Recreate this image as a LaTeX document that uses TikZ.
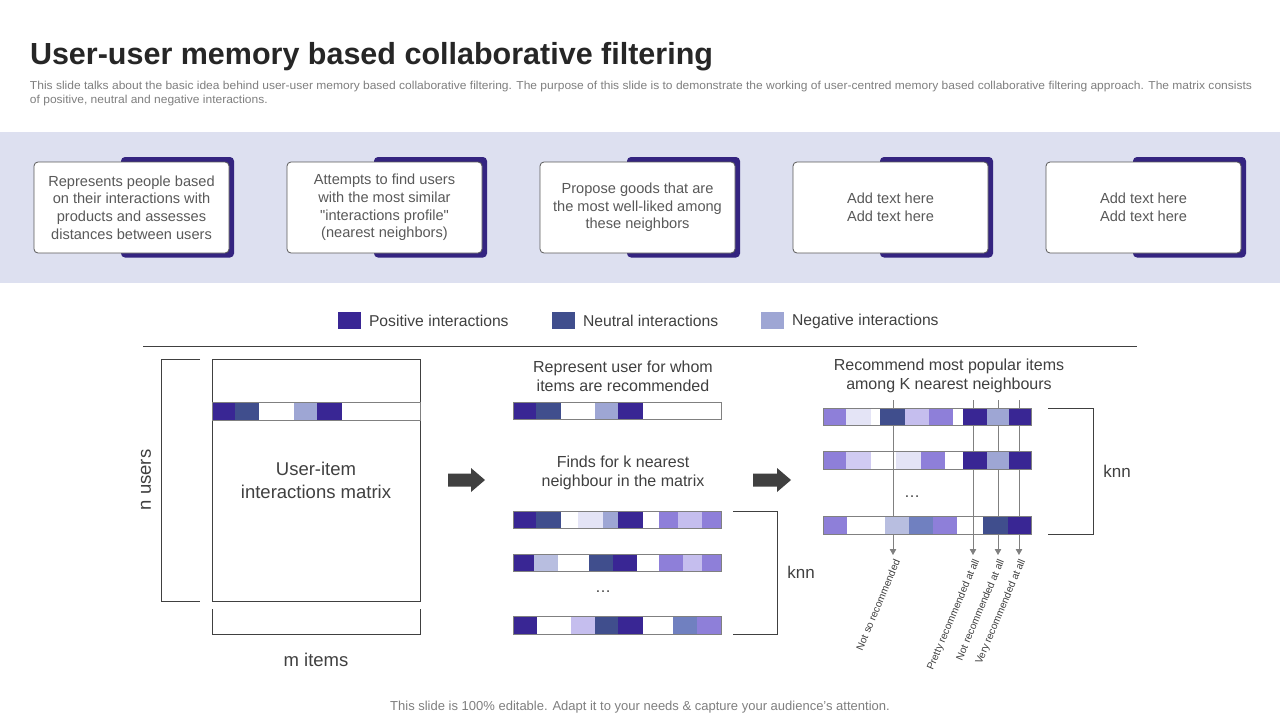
\documentclass[tikz,border=0pt]{standalone}
\usepackage{fontspec}
\usepackage{graphicx}
\setmainfont{Liberation Sans}
\usetikzlibrary{arrows.meta}
\definecolor{titlec}{RGB}{38,38,38}
\definecolor{subc}{RGB}{127,127,127}
\definecolor{band}{RGB}{221,224,240}
\definecolor{cardp}{RGB}{52,36,128}
\definecolor{cardb}{RGB}{89,89,89}
\definecolor{cardt}{RGB}{89,89,89}
\definecolor{txt}{RGB}{64,64,64}
\definecolor{linec}{RGB}{64,64,64}
\definecolor{rowc}{RGB}{128,128,128}
\definecolor{arrowc}{RGB}{64,64,64}
\definecolor{cpos}{RGB}{57,38,148}
\definecolor{cneu}{RGB}{64,78,141}
\definecolor{cneg}{RGB}{158,166,212}
\definecolor{cmp}{RGB}{142,127,217}
\definecolor{clp}{RGB}{197,190,238}
\definecolor{clpb}{RGB}{208,203,242}
\definecolor{cvl}{RGB}{228,228,246}
\definecolor{cbg}{RGB}{184,190,224}
\definecolor{csl}{RGB}{112,128,192}
\newcommand\cellrow[5]{%
  \foreach \a/\b/\c in {#5}{\fill[fill=\c] (\a,#1) rectangle (\b,#2);}
  \draw[rowc, line width=0.8] (#3,#1) rectangle (#4,#2);}
\newcommand\card[3]{%
  \fill[cardp, rounded corners=4] (#1+87,157) rectangle (#1+200,257.5);
  \node[cardbox] (#2) at (#1+97.5,207.5) {#3};}
\begin{document}
\begin{tikzpicture}[x=1pt,y=-1pt,
  every node/.style={inner sep=0pt, outer sep=0pt},
  cardbox/.style={draw=cardb, fill=white, rounded corners=4, minimum width=195, minimum height=91, line width=0.8, align=center, text=cardt, font=\fontsize{14.6}{17.6}\selectfont},
  dtext/.style={text=txt, align=center, font=\fontsize{16}{19}\selectfont},
  legtext/.style={text=txt, anchor=west, font=\fontsize{15.7}{19}\selectfont},
  legbox/.style={minimum width=23, minimum height=17},
  rlabel/.style={text=txt, anchor=east, rotate=67, font=\fontsize{10.2}{12}\selectfont},
  garrow/.style={rowc, line width=0.9, -{Triangle[length=6,width=6.5]}},
  bracket/.style={linec, line width=0.9}]
\useasboundingbox (0,0) rectangle (1280,720);
\fill[white] (0,0) rectangle (1280,720);
% title
\node[anchor=base west, text=titlec, font=\fontsize{30.5}{36}\selectfont\bfseries] (title) at (30,64) {User-user memory based collaborative filtering};
\node[anchor=north west, text=subc, font=\fontsize{11.5}{14}\selectfont] (sub) at (30,79.5) {\resizebox{1222pt}{\height}{\begin{tabular}{@{}l@{}}This slide talks about the basic idea behind user-user memory based collaborative filtering. The purpose of this slide is to demonstrate the working of user-centred memory based collaborative filtering approach. The matrix consists\\ of positive, neutral and negative interactions.\end{tabular}}};
% band
\fill[band] (0,132) rectangle (1280,283);
\card{34}{c1}{Represents people based\\on their interactions with\\products and assesses\\distances between users}
\card{287}{c2}{Attempts to find users\\with the most similar\\{\addfontfeatures{Ligatures=TeXOff}"interactions profile"}\\(nearest neighbors)}
\card{540}{c3}{Propose goods that are\\the most well-liked among\\these neighbors}
\card{793}{c4}{Add text here\\Add text here}
\card{1046}{c5}{Add text here\\Add text here}
% legend
\node[legbox, fill=cpos] (lp) at (349.5,320.5) {};
\node[legtext] (lpt) at (369,321) {Positive interactions};
\node[legbox, fill=cneu] (ln) at (563.5,320.5) {};
\node[legtext] (lnt) at (583,321) {Neutral interactions};
\node[legbox, fill=cneg] (lg) at (772.5,320.5) {};
\node[legtext] (lgt) at (792,321) {Negative interactions};
\coordinate (hl1) at (143,346);
\coordinate (hl2) at (1137,346);
\draw[linec, line width=1] (hl1) -- (hl2);
% left part
\draw[bracket] (200,359) -- (161,359) -- (161,601) -- (200,601);
\node[draw=linec, line width=0.9, minimum width=208, minimum height=242, dtext, font=\fontsize{18.5}{23}\selectfont] (mat) at (316,480) {User-item\\interactions matrix};
\cellrow{402}{420}{212}{420}{212/235/cpos,235/259/cneu,294/317/cneg,317/342/cpos}
\draw[bracket] (212,609) -- (212,634) -- (420,634) -- (420,609);
\node[dtext, rotate=90, font=\fontsize{18.5}{20}\selectfont] (nu) at (146,480) {n users};
\node[dtext, font=\fontsize{18.5}{20}\selectfont] (mi) at (316,660) {m items};
% arrows
\fill[arrowc] (448,473.5) -- (471,473.5) -- (471,468) -- (485,480) -- (471,492) -- (471,486.5) -- (448,486.5) -- cycle;
\fill[arrowc] (753,473.5) -- (777,473.5) -- (777,468) -- (791,480) -- (777,492) -- (777,486.5) -- (753,486.5) -- cycle;
% middle part
\node[dtext] (rep) at (623,376) {Represent user for whom\\items are recommended};
\cellrow{402}{419}{513}{721}{513/536/cpos,536/561/cneu,595/618/cneg,618/643/cpos}
\node[dtext] (fin) at (623,473) {Finds for k nearest\\neighbour in the matrix};
\cellrow{511}{528}{513}{721}{513/536/cpos,536/561/cneu,578/603/cvl,603/618/cneg,618/643/cpos,659/678/cmp,678/702/clp,702/721/cmp}
\cellrow{554}{571}{513}{721}{513/534/cpos,534/558/cbg,589/613/cneu,613/637/cpos,659/683/cmp,683/702/clp,702/721/cmp}
\node[text=txt, font=\fontsize{16}{19}\selectfont] (d1) at (603,592) {…};
\cellrow{616}{634}{513}{721}{513/537/cpos,571/595/clp,595/618/cneu,618/643/cpos,673/697/csl,697/721/cmp}
\draw[bracket] (733,511) -- (777,511) -- (777,634) -- (733,634);
\node[dtext, font=\fontsize{17}{20}\selectfont] (knn1) at (801,572) {knn};
% right part
\node[dtext] (rec) at (949,376) {Recommend most popular items\\among K nearest neighbours};
\foreach \n/\x in {1/893,2/973,3/998,4/1019}{
  \coordinate (t\n) at (\x,400);
  \coordinate (b\n) at (\x,555);
  \draw[garrow] (t\n) -- (b\n);
}
\cellrow{408}{425}{823}{1031}{823/846/cmp,846/871/cvl,880/905/cneu,905/929/clp,929/953/cmp,963/987/cpos,987/1009/cneg,1009/1031/cpos}
\cellrow{451}{469}{823}{1031}{823/846/cmp,846/871/clpb,896/921/cvl,921/945/cmp,963/987/cpos,987/1009/cneg,1009/1031/cpos}
\node[text=txt, font=\fontsize{16}{19}\selectfont] (d2) at (912,497) {…};
\cellrow{516}{534}{823}{1031}{823/847/cmp,885/909/cbg,909/933/csl,933/957/cmp,983/1008/cneu,1008/1031/cpos}
\draw[bracket] (1048,408) -- (1093,408) -- (1093,534) -- (1048,534);
\node[dtext, font=\fontsize{17}{20}\selectfont] (knn2) at (1117,471) {knn};
\node[rlabel] (l1) at (897,560) {Not so recommended};
\node[rlabel] (l2) at (977,560) {Pretty recommended at all};
\node[rlabel] (l3) at (1001,560) {Not recommended at all};
\node[rlabel] (l4) at (1023,560) {Very recommended at all};
% footer
\node[text=subc, font=\fontsize{13}{15}\selectfont] (foot) at (640,707.5) {This slide is 100\% editable. Adapt it to your needs \& capture your audience’s attention.};
\end{tikzpicture}
\end{document}
